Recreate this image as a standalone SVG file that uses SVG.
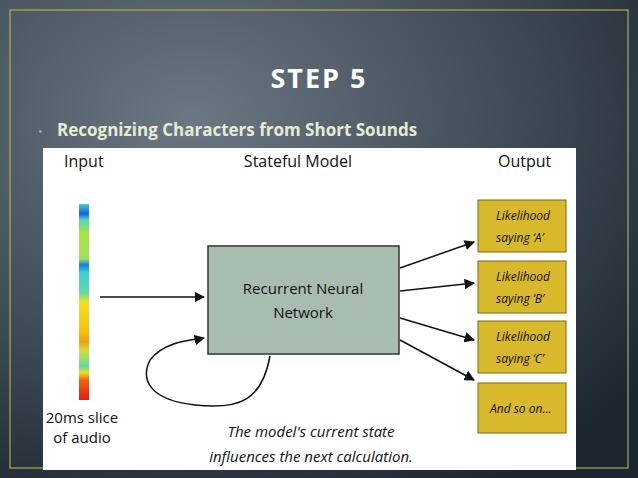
<svg xmlns="http://www.w3.org/2000/svg" width="638" height="478" viewBox="0 0 638 478">
<defs>
<radialGradient id="bg" cx="0.3" cy="0.25" r="0.9">
<stop offset="0" stop-color="#6b7884"/><stop offset="0.6" stop-color="#3c4854"/><stop offset="1" stop-color="#1c2630"/>
</radialGradient>
<linearGradient id="spec" x1="0" y1="0" x2="0" y2="1">
<stop offset="0" stop-color="#40d0d0"/><stop offset="0.05" stop-color="#1060e0"/><stop offset="0.08" stop-color="#50d8c0"/>
<stop offset="0.15" stop-color="#b0e040"/><stop offset="0.28" stop-color="#a0e060"/><stop offset="0.31" stop-color="#1080e0"/>
<stop offset="0.35" stop-color="#40d0d0"/><stop offset="0.45" stop-color="#60d8b0"/><stop offset="0.5" stop-color="#f0e020"/>
<stop offset="0.65" stop-color="#f8c010"/><stop offset="0.7" stop-color="#f0a010"/><stop offset="0.75" stop-color="#d0e040"/>
<stop offset="0.83" stop-color="#60d8a0"/><stop offset="0.86" stop-color="#f0e020"/><stop offset="0.9" stop-color="#f06010"/><stop offset="1" stop-color="#e02010"/>
</linearGradient>
<marker id="ah" viewBox="0 0 10 10" refX="9" refY="5" markerWidth="7" markerHeight="7" orient="auto"><path d="M0,0L10,5L0,10z" fill="#111"/></marker>
</defs>
<style>
.t{font-family:"Open Sans","Liberation Sans",sans-serif;fill:#111}
.o{fill:#d9b92c;stroke:#7d6a10;stroke-width:1}
.ot{font-family:"Open Sans","Liberation Sans",sans-serif;font-style:italic;font-size:12px;fill:#111}
.c{stroke:#111;stroke-width:1.5;fill:none;marker-end:url(#ah)}
</style>
<rect width="638" height="478" fill="url(#bg)"/>
<rect x="10" y="10" width="618" height="458" fill="none" stroke="#c8c040" stroke-width="1"/>
<text x="319" y="88" text-anchor="middle" font-family="Open Sans,Liberation Sans,sans-serif" font-weight="bold" font-size="27" fill="#fff" letter-spacing="2">STEP 5</text>
<text x="38" y="136" font-family="Open Sans,Liberation Sans,sans-serif" font-size="12" fill="#aab">•</text>
<text x="57" y="136" font-family="Open Sans,Liberation Sans,sans-serif" font-weight="bold" font-size="17" fill="#e6ecd2">Recognizing Characters from Short Sounds</text>
<rect x="43" y="148" width="533" height="322" fill="#fff"/>
<text class="t" x="64" y="167" font-size="16">Input</text>
<text class="t" x="298" y="167" font-size="16" text-anchor="middle">Stateful Model</text>
<text class="t" x="498" y="167" font-size="16">Output</text>
<rect x="79" y="204" width="10" height="196" fill="url(#spec)"/>
<text class="t" x="82" y="423" font-size="15" text-anchor="middle">20ms slice</text>
<text class="t" x="82" y="443" font-size="15" text-anchor="middle">of audio</text>
<g id="rnn"><rect x="208" y="246" width="191" height="108" fill="#a8bdb0" stroke="#333" stroke-width="1.5"/>
<text class="t" x="303" y="294" font-size="15" text-anchor="middle">Recurrent Neural</text>
<text class="t" x="303" y="318" font-size="15" text-anchor="middle">Network</text></g>
<g id="oA"><rect class="o" x="478" y="200" width="88" height="52"/><text class="ot" x="496" y="220">Likelihood</text><text class="ot" x="496" y="242">saying ‘A’</text></g>
<g id="oB"><rect class="o" x="478" y="261" width="88" height="52"/><text class="ot" x="496" y="281">Likelihood</text><text class="ot" x="496" y="303">saying ‘B’</text></g>
<g id="oC"><rect class="o" x="478" y="321" width="88" height="52"/><text class="ot" x="496" y="341">Likelihood</text><text class="ot" x="496" y="363">saying ‘C’</text></g>
<g id="oD"><rect class="o" x="478" y="383" width="88" height="50"/><text class="ot" x="490" y="413">And so on...</text></g>
<g id="connectors">
<path class="c" d="M100,297H204"/>
<path class="c" d="M400,268L474,242"/>
<path class="c" d="M400,291L474,283"/>
<path class="c" d="M400,318L474,340"/>
<path class="c" d="M400,340L474,380"/>
<path class="c" d="M270,356C262,400 240,410 195,405C150,400 140,380 150,360C165,340 195,340 204,338"/>
</g>
<text class="t" x="311" y="437" font-size="15" font-style="italic" text-anchor="middle">The model's current state</text>
<text class="t" x="311" y="462" font-size="15" font-style="italic" text-anchor="middle">influences the next calculation.</text>
</svg>
